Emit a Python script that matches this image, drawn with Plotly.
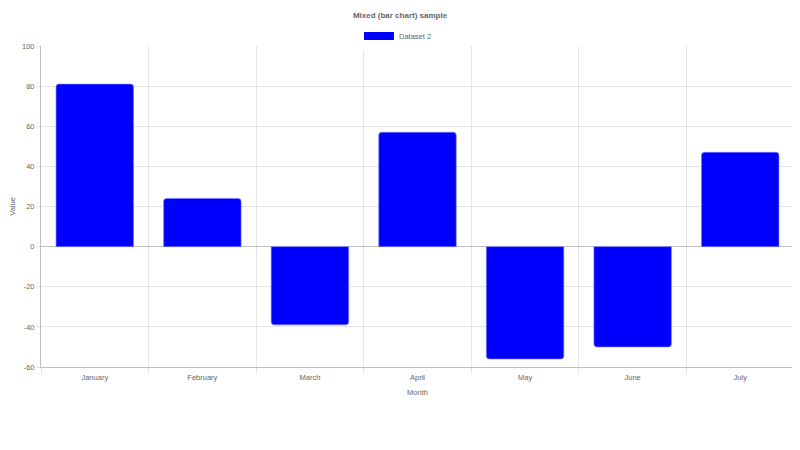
import plotly.graph_objects as go

months = ["January", "February", "March", "April", "May", "June", "July"]
dataset_2 = [81, 24, -39, 57, -56, -50, 47]
y_ticks = [-60, -40, -20, 0, 20, 40, 60, 80, 100]

GRID = "rgba(0,0,0,0.1)"
TEXT = "#666666"
BLUE = "#0000ff"
FONT = "Liberation Sans, Arial, sans-serif"

fig = go.Figure()
fig.add_trace(go.Bar(
        x=months,
        y=dataset_2,
        name="Dataset 2",
        marker=dict(color=BLUE, line=dict(color="rgba(120,120,255,0.6)", width=1), cornerradius=3),
        showlegend=False,
))
# legend entry drawn as a wide box, like the original legend
fig.add_trace(go.Scatter(
        x=[None], y=[None],
        mode="lines",
        name="Dataset 2",
        line=dict(color=BLUE, width=8),
        showlegend=True,
))

# the page body adds an 8px offset, so margins are shifted to compensate
fig.update_layout(
        template="none",
        width=800,
        height=450,
        paper_bgcolor="white",
        plot_bgcolor="white",
        font=dict(family=FONT, size=7.5, color=TEXT),
        margin=dict(l=33, r=14, t=38, b=91, autoexpand=False),
        bargap=0.28,
        title=dict(
                text="<b>Mixed (bar chart) sample</b>",
                x=392 / 800, xref="container", xanchor="center",
                y=1 - 7 / 450, yref="container", yanchor="middle",
                font=dict(size=8, color=TEXT),
        ),
        legend=dict(
                orientation="h",
                x=390 / 800, xref="container", xanchor="center",
                y=1 - 28 / 450, yref="container", yanchor="middle",
                font=dict(size=7.5, color=TEXT),
                itemwidth=30,
        ),
        xaxis=dict(
                type="category",
                tickson="boundaries",
                showgrid=True,
                gridcolor=GRID,
                gridwidth=1,
                ticks="outside",
                ticklen=6,
                tickcolor=GRID,
                ticklabelstandoff=3,
                showline=True,
                linecolor="rgba(0,0,0,0.25)",
                linewidth=1,
                title=dict(text="Month", standoff=8, font=dict(size=7.5, color=TEXT)),
                tickfont=dict(size=7.5, color=TEXT),
        ),
        yaxis=dict(
                range=[-60, 100],
                tickmode="array",
                tickvals=y_ticks,
                ticktext=[str(v) for v in y_ticks],
                showgrid=True,
                gridcolor=GRID,
                gridwidth=1,
                zeroline=True,
                zerolinecolor="rgba(0,0,0,0.25)",
                zerolinewidth=1,
                ticks="outside",
                ticklen=4,
                tickcolor=GRID,
                showline=True,
                linecolor="rgba(0,0,0,0.25)",
                linewidth=1,
                title=dict(text="Value", standoff=7, font=dict(size=7.5, color=TEXT)),
                tickfont=dict(size=7.5, color=TEXT),
        ),
)

fig.write_html("out.html")
